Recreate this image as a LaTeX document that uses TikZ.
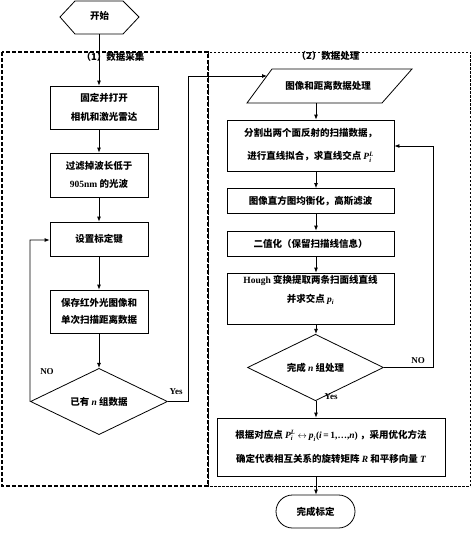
\documentclass[tikz,border=0pt]{standalone}
\usepackage{fontspec}
\setmainfont{Noto Sans CJK SC}
\newfontfamily\lat{Liberation Serif}
\usetikzlibrary{arrows.meta,shapes.geometric,shapes.misc}
\newcommand{\vv}[1]{{\lat\bfseries\itshape #1}}
\newcommand{\subsc}[1]{\hbox{\fontsize{6.5}{7}\selectfont\lat\bfseries\itshape #1}}
\newcommand{\ltx}[1]{{\lat\bfseries #1}}
\newcommand{\PiL}{$\hbox{\vv{P}}_{\subsc{i}}^{\subsc{L}}$}
\newcommand{\pisub}{$\hbox{\vv{p}}_{\subsc{i}}$}
\begin{document}
\begin{tikzpicture}[x=1pt,y=-1pt,
  every node/.style={font=\fontsize{9.5}{12}\selectfont\bfseries, inner sep=0pt},
  box/.style={draw, line width=0.8pt, align=center},
  dia/.style={draw, diamond, line width=0.8pt, inner sep=0pt},
  arr/.style={draw, line width=0.8pt, -{Latex[length=5pt,width=4pt]}},
  ln/.style={draw, line width=0.8pt},
  lbl/.style={font=\fontsize{9}{11}\selectfont\lat\bfseries}]
\useasboundingbox (0,0) rectangle (474,535);
% frames
\draw[line width=1.3pt, dash pattern=on 4pt off 2pt] (2,52) rectangle (208,486);
\draw[line width=0.8pt, dash pattern=on 2.5pt off 1.5pt] (208,52) rectangle (470,486);
\node (t1) at (113,57) {（1）数据采集};
\node (t2) at (328,56) {（2）数据处理};
% start
\node (start) at (99.5,16) {开始};
\draw[ln] (60,17) -- (75,1) -- (123,1) -- (139,17) -- (123,34) -- (75,34) -- cycle;
\coordinate (startb) at (99,34);
% left column
\node[box, minimum width=108pt, minimum height=43pt] (b1) at (104,107.5) {固定并打开\\[7pt]相机和激光雷达};
\node[box, minimum width=98pt, minimum height=44pt] (b2) at (99,175) {过滤掉波长低于\\[6pt]\ltx{905nm} 的光波};
\node[box, minimum width=98pt, minimum height=34pt] (b3) at (99,239) {设置标定键};
\node[box, minimum width=98pt, minimum height=43pt] (b4) at (99,311.5) {保存红外光图像和\\[5pt]单次扫描距离数据};
\node[dia, minimum width=137pt, minimum height=51pt] (d1) at (99,401.5) {已有 \vv{n} 组数据};
\draw[arr] (startb) -- (startb |- b1.north);
\draw[arr] (b1.south -| 99,0) -- (b2.north);
\draw[arr] (b2) -- (b3);
\draw[arr] (b3) -- (b4);
\draw[arr] (b4) -- (d1);
\draw[arr] (d1.west) -- (30,240) -- (b3.west |- 0,240);
\node[lbl] (no1) at (47,372) {NO};
\node[lbl] (yes1) at (176,392) {Yes};
% right column
\node (p1) at (328,86) {图像和距离数据处理};
\draw[ln] (247,103) -- (272,69) -- (412,69) -- (382,103) -- cycle;
\coordinate (p1in) at (267,76);
\coordinate (p1out) at (316,103);
\draw[arr] (d1.east) -- (188,401.5) -- (188,76) -- (p1in);
\node[box, minimum width=167pt, minimum height=51pt] (b5) at (310.5,145.5) {分割出两个面反射的扫描数据，\\[11pt]进行直线拟合，求直线交点 \PiL};
\node[box, minimum width=167pt, minimum height=25pt] (b6) at (310.5,201) {图像直方图均衡化，高斯滤波};
\node[box, minimum width=167pt, minimum height=25pt] (b7) at (310.5,243.5) {二值化（保留扫描线信息）};
\node[box, minimum width=167pt, minimum height=51pt] (b8) at (310.5,298.5) {\ltx{Hough} 变换提取两条扫面线直线\\[7pt]并求交点 \pisub\\[4pt]\strut};
\node[dia, minimum width=136pt, minimum height=49pt] (d2) at (315.5,367.5) {完成 \vv{n} 组处理};
\node[box, minimum width=228pt, minimum height=58pt] (b9) at (331,447) {根据对应点 \PiL\ $\leftrightarrow$ \pisub\ltx{(}\vv{i}\ltx{\,=\,1,…,}\vv{n}\ltx{)} ，采用优化方法\\[12pt]确定代表相互关系的旋转矩阵 \vv{R} 和平移向量 \vv{T}};
\node[draw, line width=0.8pt, rounded rectangle, minimum width=79pt, minimum height=33pt] (end) at (315.5,511.5) {完成标定};
\draw[arr] (p1out) -- (p1out |- b5.north);
\draw[arr] (b5.south -| 316,0) -- (b6.north -| 316,0);
\draw[arr] (b6.south -| 316,0) -- (b7.north -| 316,0);
\draw[arr] (b7.south -| 316,0) -- (b8.north -| 316,0);
\draw[arr] (b8.south -| 316,0) -- (d2.north -| 316,0);
\draw[arr] (d2.south -| 316,0) -- (b9.north -| 316,0);
\draw[arr] (b9.south -| 316,0) -- (end.north -| 316,0);
\draw[arr] (d2.east) -- (433,367.5) -- (433,146) -- (b5.east |- 0,146);
\node[lbl] (no2) at (418,361) {NO};
\node[lbl] (yes2) at (331,397) {Yes};
\end{tikzpicture}
\end{document}
